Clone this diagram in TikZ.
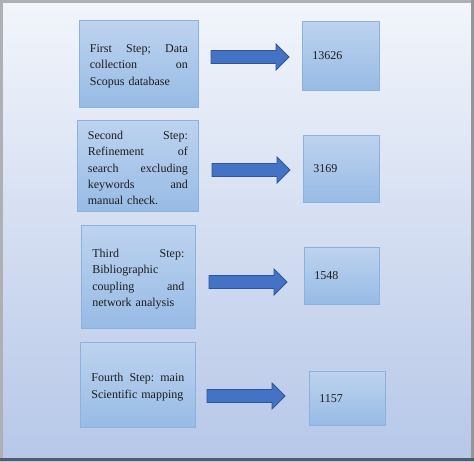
\documentclass[tikz,border=0pt]{standalone}
\usepackage{fontspec}
\setmainfont{Liberation Serif}
\definecolor{bgtop}{HTML}{F2F5FB}
\definecolor{bgmid}{HTML}{C6D4EE}
\definecolor{bgbot}{HTML}{B6C7E8}
\definecolor{boxtop}{HTML}{BDD3EF}
\definecolor{boxbot}{HTML}{97BBE5}
\definecolor{boxline}{HTML}{8DB1DD}
\definecolor{arrfill}{HTML}{4472C4}
\definecolor{arrline}{HTML}{2F5597}
\definecolor{txt}{HTML}{1C1C1C}
\definecolor{edgegray}{HTML}{AEB0B4}
\definecolor{edgedark}{HTML}{555B68}
\newcommand\blockarr[5]{%
  \coordinate (#1) at ({#2},{#5});
  \draw[blockarrow] ({#2},{#5-6.5}) -- ({#3},{#5-6.5}) -- ({#3},{#5-13}) -- ({#4},{#5})
    -- ({#3},{#5+13}) -- ({#3},{#5+6.5}) -- ({#2},{#5+6.5}) -- cycle;}
\newcommand\jline[2]{\makebox[#1][l]{#2}}
\newcommand\topstrut{\rule{0pt}{12.5pt}}
\begin{document}
\begin{tikzpicture}[x=1pt,y=-1pt,
  stepbox/.style={draw=boxline, line width=0.8pt, top color=boxtop, bottom color=boxbot,
    anchor=north west, align=left, text=txt, inner ysep=0pt,
    font=\fontsize{12}{16.3}\selectfont},
  numbox/.style={draw=boxline, line width=0.8pt, top color=boxtop, bottom color=boxbot,
    anchor=north west, align=left, text=txt, inner xsep=10pt, inner ysep=0pt,
    font=\fontsize{12}{16}\selectfont},
  blockarrow/.style={fill=arrfill, draw=arrline, line width=0.8pt, line join=miter}]
\useasboundingbox (0,0) rectangle (474,461);
\shade[top color=bgtop, middle color=bgmid, bottom color=bgbot] (0,0) rectangle (474,461);
\fill[edgegray] (0,0) rectangle (474,2.5);
\fill[edgegray] (0,0) rectangle (2.5,461);
\fill[edgegray!85!black] (471,0) rectangle (474,461);
\fill[edgedark] (0,458) rectangle (474,461);

% step boxes
\node[stepbox, text width=98pt, inner xsep=10.5pt, minimum width=119pt, minimum height=87pt] (s1) at (79,20)
  {\topstrut\jline{98pt}{First\hfill Step;\hfill Data}\\\jline{98pt}{collection\hfill on}\\Scopus database};
\node[stepbox, text width=100pt, inner xsep=10.5pt, minimum width=121pt, minimum height=91pt] (s2) at (77,120)
  {\topstrut\jline{100pt}{Second\hfill Step:}\\\jline{100pt}{Refinement\hfill of}\\\jline{100pt}{search\hfill excluding}\\\jline{100pt}{keywords\hfill and}\\manual check.};
\node[stepbox, text width=92pt, inner xsep=11pt, minimum width=114pt, minimum height=103pt] (s3) at (81,225)
  {\topstrut\jline{92pt}{Third\hfill Step:}\\Bibliographic\\\jline{92pt}{coupling\hfill and}\\network analysis};
\node[stepbox, text width=93pt, inner xsep=11pt, minimum width=115pt, minimum height=85pt] (s4) at (80,342)
  {\topstrut\jline{93pt}{Fourth\hfill Step:\hfill main}\\Scientific mapping};

% number boxes
\node[numbox, text width=57pt, minimum width=77pt, minimum height=69pt] (n1) at (302,21) {13626};
\node[numbox, text width=56pt, minimum width=76pt, minimum height=67pt] (n2) at (303,135) {3169};
\node[numbox, text width=55pt, minimum width=75pt, minimum height=57pt] (n3) at (304,247) {1548};
\node[numbox, text width=56pt, minimum width=76pt, minimum height=54pt] (n4) at (309,371) {1157};

% block arrows
\blockarr{a1}{211}{276}{289}{57}
\blockarr{a2}{212}{277}{290}{170}
\blockarr{a3}{209}{274}{287}{282}
\blockarr{a4}{207}{272}{285}{396}
\end{tikzpicture}
\end{document}
